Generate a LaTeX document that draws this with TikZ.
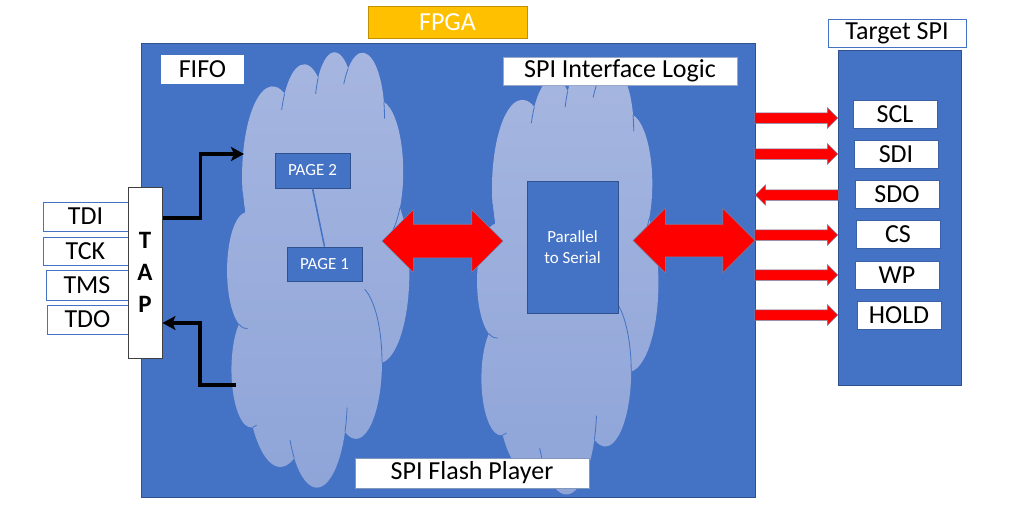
\documentclass[tikz,border=0pt]{standalone}
\usepackage{fontspec}
\setmainfont{Carlito}
\usetikzlibrary{shapes.arrows,arrows.meta}
\definecolor{bgblue}{HTML}{4472C4}
\definecolor{dkblue}{HTML}{2F528F}
\definecolor{gold}{HTML}{FFC000}
\definecolor{golddk}{HTML}{BF9000}
\definecolor{cloudtop}{HTML}{A6B6E0}
\definecolor{cloudbot}{HTML}{8EA4D8}
\definecolor{arrowred}{HTML}{FF0000}
\newcommand\mycloud[5]{% prefix, x0, y0, W, H
\begin{scope}[shift={(#2,#3)}, xscale=#4/432, yscale=#5/432]
\shade[top color=cloudtop, bottom color=cloudbot]
 (39.00,143.70) coordinate(#1j0)
 arc[start angle=-190.4875, delta angle=123.7805, x radius=67.53, y radius=91.90] coordinate(#1j1)
 arc[start angle=-144.1024, delta angle=89.9452, x radius=53.33, y radius=72.67] coordinate(#1j2)
 arc[start angle=-145.8079, delta angle=99.7230, x radius=43.65, y radius=59.45] coordinate(#1j3)
 arc[start angle=-130.9861, delta angle=117.2417, x radius=48.57, y radius=65.95] coordinate(#1j4)
 arc[start angle=-78.7089, delta angle=109.0269, x radius=53.33, y radius=72.73] coordinate(#1j5)
 arc[start angle=-46.2673, delta angle=130.2690, x radius=67.75, y radius=92.20] coordinate(#1j6)
 arc[start angle=0.6250, delta angle=114.0333, x radius=57.85, y radius=78.67] coordinate(#1j7)
 arc[start angle=22.4516, delta angle=115.1726, x radius=67.52, y radius=92.15] coordinate(#1j8)
 arc[start angle=66.2426, delta angle=75.7110, x radius=77.20, y radius=105.43] coordinate(#1j9)
 arc[start angle=-274.9421, delta angle=146.7356, x radius=43.60, y radius=59.18] coordinate(#1j10)
 arc[start angle=-246.8285, delta angle=152.5189, x radius=43.45, y radius=59.45] coordinate(#1j11)
 -- cycle;
\draw[cloudline] (#1j0) arc[start angle=-190.4875, delta angle=-12, x radius=67.53, y radius=91.90];
\draw[cloudline] (#1j1) arc[start angle=-144.1024, delta angle=-15, x radius=53.33, y radius=72.67];
\draw[cloudline] (#1j2) arc[start angle=-145.8079, delta angle=-17.7, x radius=43.65, y radius=59.45];
\draw[cloudline] (#1j3) arc[start angle=-130.9861, delta angle=-18.2, x radius=48.57, y radius=65.95];
\draw[cloudline] (#1j4) arc[start angle=-13.7444, delta angle=14.9, x radius=48.57, y radius=65.95];
\draw[cloudline] (#1j5) arc[start angle=30.3180, delta angle=27.8, x radius=53.33, y radius=72.73];
\draw[cloudline] (#1j6) arc[start angle=0.6250, delta angle=-71, x radius=57.85, y radius=78.67];
\draw[cloudline] (#1j7) arc[start angle=22.4516, delta angle=-16, x radius=67.52, y radius=92.15];
\draw[cloudline] (#1j8) arc[start angle=137.6242, delta angle=14, x radius=67.52, y radius=92.15];
\draw[cloudline] (#1j9) arc[start angle=-274.9421, delta angle=-11.4, x radius=43.60, y radius=59.18];
\draw[cloudline] (#1j10) arc[start angle=-246.8285, delta angle=-26, x radius=43.45, y radius=59.45];
\end{scope}}
\begin{document}
\begin{tikzpicture}[x=1pt,y=-1pt,
  cloudline/.style={draw=bgblue, line width=0.8pt},
  big/.style={font=\fontsize{26}{30}\selectfont},
  lbl/.style={big, fill=white, inner sep=0pt},
  sig/.style={lbl, draw=bgblue!85!black, line width=0.7pt, minimum width=84pt, minimum height=28pt},
  jtag/.style={lbl, draw=bgblue, line width=0.9pt, minimum height=29pt},
  pagebox/.style={fill=bgblue, draw=dkblue, line width=0.8pt, text=white, inner sep=0pt,
    font=\fontsize{17}{21}\selectfont},
  smallarrow/.style={single arrow, fill=arrowred, draw=dkblue!70, line width=0.5pt,
    minimum height=83pt, inner xsep=0pt, inner ysep=5pt, single arrow head extend=5pt, anchor=tip},
  bigarrow/.style={double arrow, fill=arrowred, draw=dkblue!70, line width=0.6pt, inner xsep=0pt},
  blk/.style={line width=3.8pt, -{Stealth[length=13pt,width=14pt,inset=3pt]}}
]
\useasboundingbox (0,0) rectangle (1024,511);
\fill[white] (0,0) rectangle (1024,511);

% FPGA
\node[big, fill=gold, draw=golddk, line width=0.8pt, text=white, inner sep=0pt,
  minimum width=159pt, minimum height=32pt] (fpga) at (447.5,22) {FPGA};
\node[fill=bgblue, draw=dkblue, line width=0.8pt, minimum width=614pt, minimum height=454pt,
  inner sep=0pt] (main) at (448,270) {};

% clouds
\mycloud{a}{225}{52}{195}{423}
\mycloud{b}{475}{66}{194}{416}

% FIFO contents
\node[pagebox, minimum width=75pt, minimum height=35pt] (page2) at (312.5,170.5) {PAGE 2};
\node[pagebox, minimum width=75pt, minimum height=34pt] (page1) at (324.5,264) {PAGE 1};
\draw[bgblue, line width=1.5pt] (page2.south) -- (page1.north);
\node[pagebox, minimum width=91pt, minimum height=132pt, align=center] (par) at (572.5,247) {Parallel\\to Serial};

% labels
\node[lbl, minimum width=83pt, minimum height=29pt] (fifo) at (202.5,69.5) {FIFO};
\node[lbl, draw=dkblue!50, line width=0.6pt, minimum width=234pt, minimum height=28pt] (spil) at (620,71) {SPI Interface Logic};
\node[lbl, draw=dkblue!60, line width=0.6pt, minimum width=234pt, minimum height=30pt] (sfp) at (472,473) {SPI Flash Player};

% big arrows
\node[bigarrow, minimum height=121pt, inner ysep=16.5pt, double arrow head extend=14.5pt] (bl) at (442.5,241) {};
\node[bigarrow, minimum height=122pt, inner ysep=16pt, double arrow head extend=16pt] (br) at (694,240.5) {};

% Target SPI
\node[lbl, draw=bgblue, line width=0.9pt, minimum width=138pt, minimum height=28pt] (tgtlbl) at (897,33) {Target SPI};
\node[fill=bgblue, draw=dkblue, line width=0.8pt, minimum width=123pt, minimum height=335pt, inner sep=0pt] (tgt) at (899.5,217.5) {};
\node[sig] (scl) at (895,114) {SCL};
\node[sig] (sdi) at (896,154) {SDI};
\node[sig] (sdo) at (897,194) {SDO};
\node[sig] (cs) at (898,234) {CS};
\node[sig] (wp) at (897,275) {WP};
\node[sig] (hold) at (899,315) {HOLD};

% small arrows main -> target
\node[smallarrow] (a1) at (838,118) {};
\node[smallarrow] (a2) at (838,154) {};
\node[smallarrow, shape border rotate=180] (a3) at (755,195) {};
\node[smallarrow] (a4) at (838,235) {};
\node[smallarrow] (a5) at (838,275) {};
\node[smallarrow] (a6) at (838,315) {};

% JTAG side
\node[jtag, minimum width=85pt] (tdi) at (85.5,216.5) {TDI};
\node[jtag, minimum width=85pt, minimum height=28pt] (tck) at (85.5,251) {TCK};
\node[jtag, minimum width=82pt, minimum height=30pt] (tms) at (87,285) {TMS};
\node[jtag, minimum width=81pt] (tdo) at (87.5,319.5) {TDO};
\node[fill=white, draw=black!75, line width=1pt, minimum width=34pt, minimum height=171pt, inner sep=0pt,
  align=center, font=\fontsize{25}{32}\selectfont\bfseries] (tap) at (145,272.5) {T\\A\\P};

\coordinate (cin) at (244,154);
\coordinate (cout) at (236,385);
\draw[blk] ([yshift=54.5pt]tap.east) -- ++(38,0) |- (cin);
\draw[blk] (cout) -- ++(-36,0) |- ([yshift=-50.5pt]tap.east);
\end{tikzpicture}
\end{document}
